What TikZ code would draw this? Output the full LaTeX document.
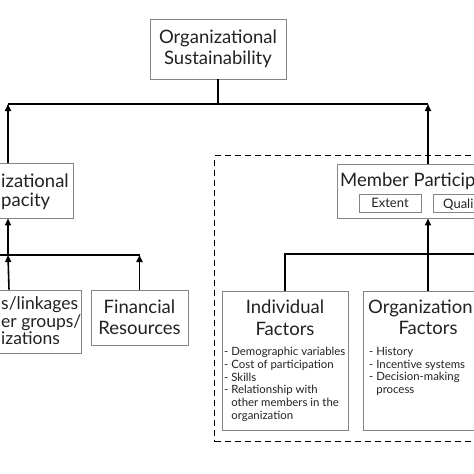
\documentclass[tikz,border=0pt]{standalone}
\usepackage{fontspec}
\setmainfont{Lato}
\usetikzlibrary{arrows.meta}
\definecolor{boxgray}{HTML}{858585}
\definecolor{txt}{HTML}{222222}
\begin{document}
\begin{tikzpicture}[x=1pt,y=-1pt,
  box/.style={draw=boxgray, line width=0.9pt, fill=white, text=txt, align=center, inner sep=0pt},
  big/.style={font=\fontsize{18.5}{21.5}\selectfont, text=txt, inner sep=0pt},
  mid/.style={font=\fontsize{17.5}{20}\selectfont, text=txt, inner sep=0pt},
  sub/.style={font=\fontsize{13}{14}\selectfont},
  small/.style={font=\fontsize{11.4}{12.7}\selectfont, text=txt, align=left, inner sep=0pt},
  conn/.style={line width=1.6pt, black},
  arr/.style={conn, -{Triangle[width=6pt,length=7pt]}},
  grpbox/.style={draw=black, line width=1.3pt, dash pattern=on 6pt off 4pt, inner sep=0pt}]
\useasboundingbox (0,0) rectangle (474,474);
\fill[white] (0,0) rectangle (474,474);
\clip (0,0) rectangle (474,474);

% dashed group
\node[grpbox, minimum width=400pt, minimum height=286pt, anchor=north west] (grp) at (214,155) {};

% top
\node[box, big, minimum width=136pt, minimum height=60pt] (sus) at (218,49) {Organizational\\Sustainability};

% left side (cut by the picture's edge)
\node[box, minimum width=130pt, minimum height=55pt] (cap) at (8,190.5) {};
\node[big, anchor=base west] (cap1) at (1,187) {izational};
\node[big, anchor=base west] (cap2) at (1,206) {pacity};

\node[box, minimum width=144pt, minimum height=63pt] (net) at (9,321.5) {};
\node[mid, anchor=base west] (net1) at (1,309) {s/linkages};
\node[mid, anchor=base west] (net2) at (1,327) {er groups/};
\node[mid, anchor=base west] (net3) at (1,344) {izations};

\node[box, big, minimum width=97pt, minimum height=55pt] (fin) at (139.5,317.5) {Financial\\Resources};

% member participation
\node[box, minimum width=182pt, minimum height=54pt] (mem) at (428,191) {};
\node[big, anchor=base west] (memt) at (340,186) {Member Particip};
\node[box, sub, minimum width=62pt, minimum height=18pt] (ext) at (390,203) {Extent};
\node[box, minimum width=64pt, minimum height=18pt] (qual) at (465,203) {};
\node[sub, text=txt, inner sep=0pt, anchor=base west] (qualt) at (443,208) {Quali};

% factors
\node[box, minimum width=126pt, minimum height=139pt] (ind) at (285,360.5) {};
\node[big, align=center] (indt) at (285,318) {Individual\\Factors};
\node[small, anchor=north west] (indl) at (224,347) {- Demographic variables\\- Cost of participation\\- Skills\\- Relationship with\\\phantom{- }other members in the\\\phantom{- }organization};

\node[box, minimum width=130pt, minimum height=139pt] (org) at (428,360.5) {};
\node[big, anchor=base west] (orgt1) at (368,313) {Organization};
\node[big, anchor=base] (orgt2) at (428,334) {Factors};
\node[small, anchor=north west] (orgl) at (369,347) {- History\\- Incentive systems\\- Decision-making\\\phantom{- }process};

% junctions
\coordinate (jt) at (218,104);
\coordinate (jl) at (8,104);
\coordinate (jr) at (428,104);
\coordinate (bl) at (-20,255);
\coordinate (bj) at (8,255);
\coordinate (bf) at (139.5,255);
\coordinate (ri) at (285,254);
\coordinate (rr) at (490,254);

% connectors
\draw[conn] (sus.south) -- (jt);
\draw[conn] (jl) -- (jr);
\draw[arr] (cap.north) -- (jl);
\draw[arr] (mem.north) -- (jr);
\draw[conn] (bl) -- (bf);
\draw[arr] (bj) -- (cap.south);
\draw[arr] (net.north) -- (bj);
\draw[arr] (fin.north) -- (bf);
\draw[conn] (ind.north) -- (ri) -- (rr);
\draw[arr] (org.north) -- (mem.south);
\end{tikzpicture}
\end{document}
